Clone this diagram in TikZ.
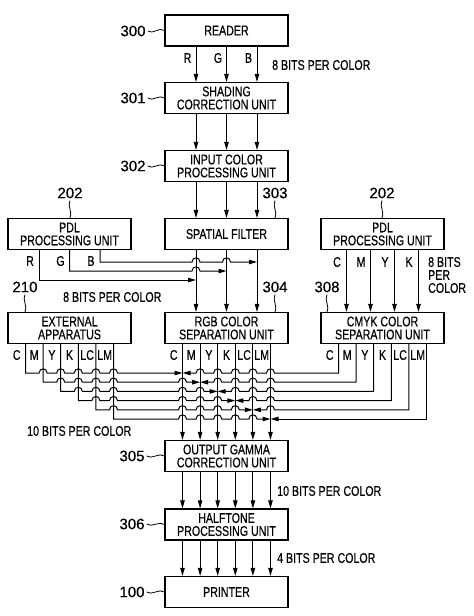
\documentclass[tikz,border=0pt]{standalone}
\usepackage{fontspec}
\setmainfont{Liberation Sans}[FakeStretch=0.76,FakeBold=0.4]
\newfontfamily\numfont{Liberation Sans}[FakeBold=0.4]
\usetikzlibrary{arrows.meta}
\tikzset{
  unit/.style={draw, line width=1.1pt, minimum width=123pt, minimum height=31pt, inner sep=0pt, align=center, font=\fontsize{14}{13}\selectfont},
  lab/.style={inner sep=0pt, font=\fontsize{14}{13}\selectfont},
  refnum/.style={inner sep=0pt, font=\numfont\fontsize{15}{15}\selectfont},
  wire/.style={line width=1pt},
  arr/.style={line width=1pt, -{Triangle[length=8pt,width=4.4pt]}},
  lead/.style={line width=0.8pt}
}
\begin{document}
\begin{tikzpicture}[x=1pt,y=-1pt]
\fill[white] (0,0) rectangle (474,616);
\useasboundingbox (0,0) rectangle (474,616);
% units
\node[unit] (reader)   at (226.5,30.5) {READER};
\node[unit] (shading)  at (226.5,98)   {SHADING\\CORRECTION UNIT};
\node[unit] (input)    at (226.5,166)  {INPUT COLOR\\PROCESSING UNIT};
\node[unit] (spatial)  at (226.5,234)  {SPATIAL FILTER};
\node[unit] (pdlL)     at (69.5,234)   {PDL\\PROCESSING UNIT};
\node[unit] (pdlR)     at (382.5,234)  {PDL\\PROCESSING UNIT};
\node[unit] (ext)      at (69.5,328)   {EXTERNAL\\APPARATUS};
\node[unit] (rgbsep)   at (226.5,328)  {RGB COLOR\\SEPARATION UNIT};
\node[unit] (cmyksep)  at (382.5,328)  {CMYK COLOR\\SEPARATION UNIT};
\node[unit] (gamma)    at (226.5,456)  {OUTPUT GAMMA\\CORRECTION UNIT};
\node[unit] (halftone) at (226.5,524.5) {HALFTONE\\PROCESSING UNIT};
\node[unit] (printer)  at (226.5,592)  {PRINTER};
% reference numerals
\node[refnum] (l300) at (133,31)  {300};
\node[refnum] (l301) at (133,98)  {301};
\node[refnum] (l302) at (133,166) {302};
\node[refnum] (l305) at (132,456) {305};
\node[refnum] (l306) at (132,524) {306};
\node[refnum] (l100) at (132,592) {100};
\foreach \n/\b in {l300/reader,l301/shading,l302/input,l305/gamma,l306/halftone,l100/printer}
  \draw[lead] ([xshift=2pt]\n.east) .. controls +(5,4) and +(-5,-4) .. (\b.west);
\node[refnum] (l202a) at (70,193)  {202};
\node[refnum] (l303)  at (275,193) {303};
\node[refnum] (l202b) at (382,193) {202};
\node[refnum] (l210)  at (25,287)  {210};
\node[refnum] (l304)  at (275,287) {304};
\node[refnum] (l308)  at (327,287) {308};
\foreach \n/\b in {l202a/pdlL,l303/spatial,l202b/pdlR,l210/ext,l304/rgbsep,l308/cmyksep}
  \draw[lead] ([yshift=-2pt]\n.south) .. controls +(-3,5) and +(3,-5) .. (\b.north -| \n.south);
% bit-depth notes
\node[lab, anchor=west] (n1) at (272,65)  {8 BITS PER COLOR};
\node[lab, anchor=west] (n2) at (63,297)  {8 BITS PER COLOR};
\node[lab, anchor=west, align=left] (n3) at (428,275) {8 BITS\\PER\\COLOR};
\node[lab, anchor=west] (n4) at (27,431)  {10 BITS PER COLOR};
\node[lab, anchor=west] (n5) at (277,491) {10 BITS PER COLOR};
\node[lab, anchor=west] (n6) at (277,558) {4 BITS PER COLOR};
% RGB main column
\foreach \s/\c in {-30.5/R,0/G,30.5/B}{
  \draw[arr] ([xshift=\s pt]reader.south) -- ([xshift=\s pt]shading.north);
  \node[lab] (rd\c) at (226.5+\s-8.5,58) {\c};
  \draw[arr] ([xshift=\s pt]shading.south) -- ([xshift=\s pt]input.north);
  \draw[arr] ([xshift=\s pt]input.south) -- ([xshift=\s pt]spatial.north);
  \draw[arr] ([xshift=\s pt]spatial.south) -- ([xshift=\s pt]rgbsep.north);
  \node[lab] (pl\c) at (69.5+\s-9,261) {\c};
}
% left PDL outputs
\draw[arr] ([xshift=-30.5pt]pdlL.south) -- (39,280) -- (196,280);
\draw[arr] (pdlL.south) -- (69.5,271)
  \foreach \h in {196}{ -- (\h-4,271) .. controls (\h-4,265.5) and (\h+4,265.5) .. (\h+4,271) } -- (226.5,271);
\draw[arr] ([xshift=30.5pt]pdlL.south) -- (100,262)
  \foreach \h in {196,226.5}{ -- (\h-4,262) .. controls (\h-4,256.5) and (\h+4,256.5) .. (\h+4,262) } -- (257,262);
% right PDL outputs
\foreach \s/\c in {-36/C,-12/M,12/Y,36/K}{
  \draw[arr] ([xshift=\s pt]pdlR.south) -- ([xshift=\s pt]cmyksep.north);
  \node[lab] (pr\c) at (382.5+\s-9.5,262) {\c};
}
% separation unit outputs labels
\foreach \s/\c in {-44/C,-26.4/M,-8.8/Y,8.8/K,26.4/LC,44/LM}{
  \node[lab] (le\c) at (69.5+\s-8.8,355) {\c};
  \node[lab] (lr\c) at (226.5+\s-8.8,355) {\c};
  \node[lab] (lc\c) at (382.5+\s-8.8,355) {\c};
  \draw[arr] ([xshift=\s pt]rgbsep.south) -- ([xshift=\s pt]gamma.north);
  \draw[arr] ([xshift=\s pt]gamma.south) -- ([xshift=\s pt]halftone.north);
  \draw[arr] ([xshift=\s pt]halftone.south) -- ([xshift=\s pt]printer.north);
}
% external apparatus outputs
\foreach \s/\y/\e/\hl in {
  -44/373/182.5/{43.1,60.7,78.3,95.9,113.5},
  -26.4/382.2/200.1/{60.7,78.3,95.9,113.5,182.5},
  -8.8/391.4/217.7/{78.3,95.9,113.5,182.5,200.1},
  8.8/400.6/235.3/{95.9,113.5,182.5,200.1,217.7},
  26.4/409.8/252.9/{113.5,182.5,200.1,217.7,235.3},
  44/419/270.5/{182.5,200.1,217.7,235.3,252.9}}
  \draw[arr] ([xshift=\s pt]ext.south) -- (69.5+\s,\y)
    \foreach \h in \hl { -- (\h-4,\y) .. controls (\h-4,\y-5.5) and (\h+4,\y-5.5) .. (\h+4,\y) } -- (\e,\y);
% CMYK separation outputs
\foreach \s/\y/\e/\hl in {
  -44/373/182.5/{270.5,252.9,235.3,217.7,200.1},
  -26.4/382.2/200.1/{270.5,252.9,235.3,217.7},
  -8.8/391.4/217.7/{270.5,252.9,235.3},
  8.8/400.6/235.3/{270.5,252.9},
  26.4/409.8/252.9/{270.5}}
  \draw[arr] ([xshift=\s pt]cmyksep.south) -- (382.5+\s,\y)
    \foreach \h in \hl { -- (\h+4,\y) .. controls (\h+4,\y-5.5) and (\h-4,\y-5.5) .. (\h-4,\y) } -- (\e,\y);
\draw[arr] ([xshift=44pt]cmyksep.south) -- (426.5,419) -- (270.5,419);
\end{tikzpicture}
\end{document}
